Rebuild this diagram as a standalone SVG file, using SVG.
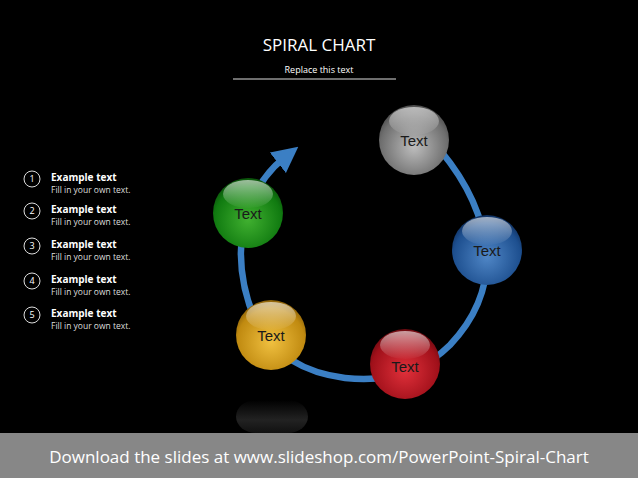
<svg xmlns="http://www.w3.org/2000/svg" width="638" height="478" viewBox="0 0 638 478">
<style>
.t{font-family:"Open Sans","Liberation Sans",sans-serif;fill:#fff}
.h{font-size:10px;font-weight:bold}
.s{font-size:8.5px;fill:#ddd}
.n{font-size:9px;text-anchor:middle}
.bt{font-family:"Liberation Sans",Arial,sans-serif;font-size:15px;fill:#1a1a1a;text-anchor:middle}
.num{fill:none;stroke:#ddd;stroke-width:1}
</style>
<defs>
<radialGradient id="gGray" cx="0.5" cy="0.6" r="0.6"><stop offset="0" stop-color="#bdbdbd"/><stop offset="0.8" stop-color="#6e6e6e"/><stop offset="1" stop-color="#4a4a4a"/></radialGradient>
<radialGradient id="gBlue" cx="0.5" cy="0.6" r="0.6"><stop offset="0" stop-color="#4f86c6"/><stop offset="0.8" stop-color="#1d4f8f"/><stop offset="1" stop-color="#0f3060"/></radialGradient>
<radialGradient id="gRed" cx="0.5" cy="0.6" r="0.6"><stop offset="0" stop-color="#e0303a"/><stop offset="0.8" stop-color="#a0101a"/><stop offset="1" stop-color="#6a0a10"/></radialGradient>
<radialGradient id="gYel" cx="0.5" cy="0.6" r="0.6"><stop offset="0" stop-color="#f0c040"/><stop offset="0.8" stop-color="#c08a10"/><stop offset="1" stop-color="#8a6008"/></radialGradient>
<radialGradient id="gGrn" cx="0.5" cy="0.6" r="0.6"><stop offset="0" stop-color="#40b030"/><stop offset="0.8" stop-color="#107a10"/><stop offset="1" stop-color="#0a500a"/></radialGradient>
<linearGradient id="hl" x1="0" y1="0" x2="0" y2="1"><stop offset="0" stop-color="#fff" stop-opacity="0.6"/><stop offset="1" stop-color="#fff" stop-opacity="0.02"/></linearGradient>
<linearGradient id="refl" x1="0" y1="0" x2="0" y2="1"><stop offset="0" stop-color="#000"/><stop offset="0.6" stop-color="#222"/><stop offset="1" stop-color="#111"/></linearGradient>
<marker id="arr" viewBox="0 0 10 10" refX="3" refY="5" markerWidth="4" markerHeight="4" orient="auto"><path d="M0,0 L10,5 L0,10 Z" fill="#3b7fc4"/></marker>
</defs>
<rect width="638" height="478" fill="#000"/>
<text class="t" x="319" y="51" font-size="17" text-anchor="middle">SPIRAL CHART</text>
<text class="t" x="319" y="73" font-size="9" text-anchor="middle">Replace this text</text>
<line x1="233" y1="79" x2="396" y2="79" stroke="#ddd" stroke-width="1"/>
<g id="legend">
<g id="item1"><circle class="num" cx="32" cy="179" r="8"/><text class="t n" x="32" y="182">1</text><text class="t h" x="51" y="181">Example text</text><text class="t s" x="51" y="193">Fill in your own text.</text></g>
<g id="item2"><circle class="num" cx="32" cy="211" r="8"/><text class="t n" x="32" y="214">2</text><text class="t h" x="51" y="213">Example text</text><text class="t s" x="51" y="225">Fill in your own text.</text></g>
<g id="item3"><circle class="num" cx="32" cy="246" r="8"/><text class="t n" x="32" y="249">3</text><text class="t h" x="51" y="248">Example text</text><text class="t s" x="51" y="260">Fill in your own text.</text></g>
<g id="item4"><circle class="num" cx="32" cy="281" r="8"/><text class="t n" x="32" y="284">4</text><text class="t h" x="51" y="283">Example text</text><text class="t s" x="51" y="295">Fill in your own text.</text></g>
<g id="item5"><circle class="num" cx="32" cy="315" r="8"/><text class="t n" x="32" y="318">5</text><text class="t h" x="51" y="317">Example text</text><text class="t s" x="51" y="329">Fill in your own text.</text></g>
</g>
<rect x="236" y="400" width="72" height="33" fill="url(#refl)" rx="20"/>
<g id="connectors">
<path d="M440,150 Q482,200 487,255 Q488,305 450,345 Q410,385 345,378 Q282,370 256,322 Q234,272 244,222 Q256,180 284,158" fill="none" stroke="#3b7fc4" stroke-width="6.5" marker-end="url(#arr)"/>
</g>
<g id="gray"><circle cx="414" cy="140" r="35" fill="url(#gGray)"/><ellipse cx="414" cy="121" rx="25" ry="14" fill="url(#hl)"/><text class="bt" x="414" y="146">Text</text></g>
<g id="blue"><circle cx="487" cy="250" r="35" fill="url(#gBlue)"/><ellipse cx="487" cy="231" rx="25" ry="14" fill="url(#hl)"/><text class="bt" x="487" y="256">Text</text></g>
<g id="red"><circle cx="405" cy="364" r="35" fill="url(#gRed)"/><ellipse cx="405" cy="345" rx="25" ry="14" fill="url(#hl)"/><text class="bt" x="405" y="372">Text</text></g>
<g id="yellow"><circle cx="271" cy="335" r="35" fill="url(#gYel)"/><ellipse cx="271" cy="316" rx="25" ry="14" fill="url(#hl)"/><text class="bt" x="271" y="341">Text</text></g>
<g id="green"><circle cx="248" cy="213" r="35" fill="url(#gGrn)"/><ellipse cx="248" cy="194" rx="25" ry="14" fill="url(#hl)"/><text class="bt" x="248" y="219">Text</text></g>
<rect x="0" y="433" width="638" height="45" fill="#878787"/>
<text class="t" x="319" y="463" font-size="17" text-anchor="middle">Download the slides at www.slideshop.com/PowerPoint-Spiral-Chart</text>
</svg>
